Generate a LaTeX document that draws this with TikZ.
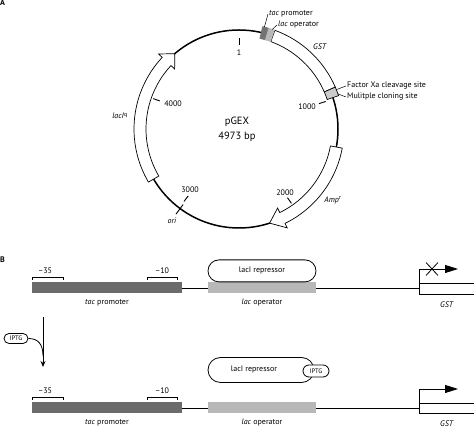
\documentclass[tikz,border=0pt]{standalone}
\usepackage{fontspec}
\setmainfont{PT Sans}
\usetikzlibrary{arrows.meta, positioning, shapes.misc}
\tikzstyle{gene} = [draw=black, line width=0.7pt, fill=white, line join=miter]
\tikzstyle{bpmark} = [line width=0.9pt]
\tikzstyle{mapnote} = [font=\fontsize{8}{9}\selectfont, inner sep=1pt]
\tikzstyle{darkbar} = [rectangle, minimum width=150pt, minimum height=11pt, inner sep=0pt, fill=black!58]
\tikzstyle{lightbar} = [rectangle, minimum width=108pt, minimum height=11pt, inner sep=0pt, fill=black!28]
\tikzstyle{repressor} = [rounded rectangle, draw=black, line width=0.8pt, minimum width=108pt, minimum height=22pt, inner sep=0pt, font=\fontsize{8}{9}\selectfont]
\tikzstyle{iptg} = [rounded rectangle, draw=black, line width=0.8pt, minimum width=26pt, minimum height=10pt, inner sep=1pt, font=\fontsize{6.5}{7}\selectfont]
\tikzstyle{start} = [-{Triangle[length=13pt, width=8pt]}, line width=0.8pt]

\begin{document}
\begin{tikzpicture}[x=1pt, y=1pt, node distance=15pt]
\useasboundingbox (0,0) rectangle (474,430);
\node (parta) [font=\bfseries\fontsize{8}{9}\selectfont, anchor=north west, inner sep=0pt] at (0,430) {A};
\node (partb) [font=\bfseries\fontsize{8}{9}\selectfont, anchor=north west, inner sep=0pt] at (0,173) {B};

% plasmid map
\begin{scope}[shift={(239,301)}]
\draw[line width=1.5pt] (0,0) circle (99);
\foreach \a in {90,17.6,-54.8,-127.2,160.5}
  \draw[bpmark] (\a:84) -- (\a:91);
\draw[bpmark] (-126.5:94) -- (-126.5:106);
% GST, Xa/MCS, tac promoter / lac operator
\draw[gene] (70:105) arc (70:23.5:105) -- (23.5:93) arc (23.5:70:93) -- cycle;
\draw[gene, fill=black!20] (23.5:105) arc (23.5:18.5:105) -- (18.5:93) arc (18.5:23.5:93) -- cycle;
\draw[gene, fill=black!55, draw=black!55] (77:105) arc (77:73.5:105) -- (73.5:93) arc (73.5:77:93) -- cycle;
\draw[gene, fill=black!28, draw=black!28] (73.5:105) arc (73.5:70.3:105) -- (70.3:93) arc (70.3:73.5:93) -- cycle;
% Amp and lacI arrows
\draw[gene] (-10.5:105) arc (-10.5:-64:105) -- (-64:110) -- (-72:99) -- (-64:88) -- (-64:93) arc (-64:-10.5:93) -- cycle;
\draw[gene] (210.4:93) arc (210.4:137:93) -- (137:88) -- (130.5:99) -- (137:110) -- (137:105) arc (137:210.4:105) -- cycle;
% labels
\node (one) [mapnote] at (0,76) {1};
\node (k1) [mapnote] at (68,22) {1000};
\node (k2) [mapnote] at (46,-64) {2000};
\node (k3) [mapnote] at (-49,-61) {3000};
\node (k4) [mapnote] at (-66,25) {4000};
\node (ori) [mapnote] at (-67,-92) {\textit{ori}};
\node (laci) [mapnote] at (-119,13) {\textit{lacI}\textsuperscript{q}};
\node (gst) [mapnote] at (81,82) {\textit{GST}};
\node (amp) [mapnote] at (94,-71) {\textit{Amp}\textsuperscript{r}};
\node (name) [font=\fontsize{10.5}{12}\selectfont] at (-2,7) {pGEX};
\node (size) [font=\fontsize{10.5}{12}\selectfont] at (-2,-8) {4973 bp};
\node (tacp) [mapnote, anchor=west] at (29,115) {\textit{tac} promoter};
\node (laco) [mapnote, anchor=west] at (38,104) {\textit{lac} operator};
\node (xa) [mapnote, anchor=west] at (107,43) {Factor Xa cleavage site};
\node (mcs) [mapnote, anchor=west] at (107,32) {Mulitple cloning site};
\draw[line width=0.5pt] (76:105) -- (tacp.west);
\draw[line width=0.5pt] (71.5:105) -- (laco.west);
\draw[line width=0.5pt] (22:105) -- (xa.west);
\draw[line width=0.5pt] (19.5:105) -- (mcs.west);
\end{scope}

% repressed
\node (prom1) [darkbar] at (107,142) {};
\node (oper1) [lightbar] at (262,142) {};
\node (rep1) [repressor, above=0pt of oper1] {lacI repressor};
\node (prom1lab) [mapnote, below of=prom1] {\textit{tac} promoter};
\node (oper1lab) [mapnote, below of=oper1] {\textit{lac} operator};
\node (gst1lab) [mapnote] at (447,125) {\textit{GST}};
\draw[line width=0.4pt] (32,150) -- (32,153) -- (63,153) -- (63,150);
\draw[line width=0.4pt] (147,150) -- (147,153) -- (177,153) -- (177,150);
\node (m35a) [mapnote] at (45,159) {--35};
\node (m10a) [mapnote] at (162,159) {--10};
\coordinate (gene1) at (419,142);
\coordinate (tss1) at (419,161);
\coordinate (tip1) at (458,161);
\draw[line width=0.8pt] (prom1.east) -- (oper1.west);
\draw[line width=0.8pt] (oper1.east) -- (gene1);
\draw[line width=0.8pt] (419,136) -- (tss1);
\draw[start] (tss1) -- (tip1);
\draw[line width=0.8pt] (419,147) -- (474,147);
\draw[line width=0.8pt] (419,136) -- (474,136);
\node (block) [draw, cross out, line width=0.8pt, minimum width=11pt, minimum height=12pt, inner sep=0pt] at (432,161) {};

% induction
\node (iptg0) [iptg] at (16,91.5) {IPTG};
\coordinate (down0) at (43,113);
\coordinate (down1) at (43,63);
\draw[line width=0.8pt, -{Stealth[length=6pt, width=5pt]}] (down0) -- (down1);
\draw[line width=0.8pt] (iptg0.east) .. controls (38,91.5) and (43,86) .. (43,74);

% induced
\node (prom2) [darkbar] at (107,22) {};
\node (oper2) [lightbar] at (262,22) {};
\node (rep2) [repressor, minimum height=25pt, minimum width=106pt] at (261,60) {\hspace*{-14pt}lacI repressor};
\node (iptg2) [iptg, fill=white, minimum width=28pt, minimum height=12pt] at (316,59) {IPTG};
\node (prom2lab) [mapnote, below of=prom2] {\textit{tac} promoter};
\node (oper2lab) [mapnote, below of=oper2] {\textit{lac} operator};
\node (gst2lab) [mapnote] at (447,6) {\textit{GST}};
\draw[line width=0.4pt] (32,30) -- (32,33) -- (63,33) -- (63,30);
\draw[line width=0.4pt] (147,30) -- (147,33) -- (177,33) -- (177,30);
\node (m35b) [mapnote] at (45,39) {--35};
\node (m10b) [mapnote] at (162,39) {--10};
\coordinate (gene2) at (419,22);
\coordinate (tss2) at (419,41);
\coordinate (tip2) at (458,41);
\draw[line width=0.8pt] (prom2.east) -- (oper2.west);
\draw[line width=0.8pt] (oper2.east) -- (gene2);
\draw[line width=0.8pt] (419,17) -- (tss2);
\draw[start] (tss2) -- (tip2);
\draw[line width=0.8pt] (419,27) -- (474,27);
\draw[line width=0.8pt] (419,17) -- (474,17);
\end{tikzpicture}
\end{document}
